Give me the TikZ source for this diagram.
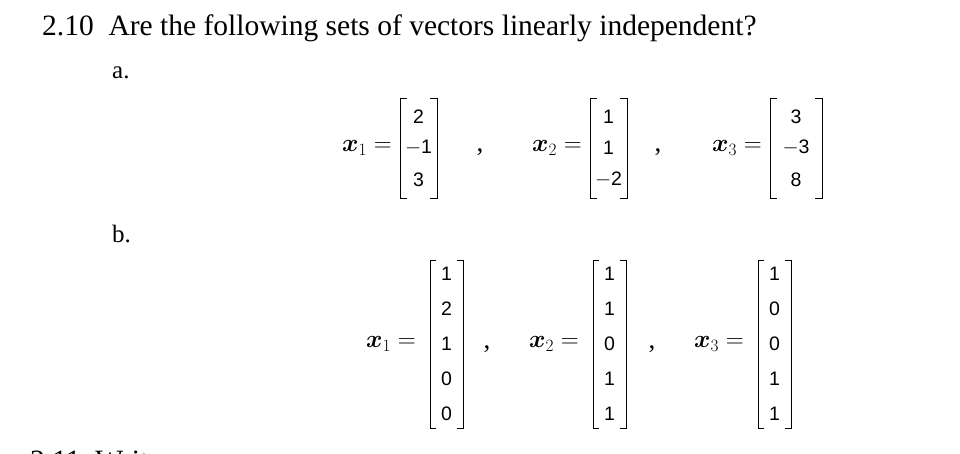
\documentclass[tikz,border=0pt]{standalone}
\usepackage{amsmath}
\usepackage{fontspec}
\setmainfont{Liberation Serif}
\newfontfamily\numf{Liberation Sans}
\begin{document}
\begin{tikzpicture}[x=1pt,y=-1pt,
  txt/.style={anchor=base west,inner sep=0pt,font=\fontsize{29.5}{32}\selectfont},
  lab/.style={anchor=base west,inner sep=0pt,font=\fontsize{25}{28}\selectfont},
  ent/.style={inner sep=0pt,font=\numf\fontsize{19.5}{22}\selectfont},
  mth/.style={inner sep=0pt,anchor=east,font=\fontsize{27}{30}\selectfont},
  commamark/.style={inner sep=0pt,font=\fontsize{27}{30}\selectfont},
  br/.style={line width=1pt}]
\useasboundingbox (0,0) rectangle (960,453);
\begin{scope}
\clip (0,0) rectangle (960,453);
\node[txt] (t) at (42,35) {2.10\ \ Are the following sets of vectors linearly independent?};
\node[lab] (a) at (112,78) {a.};
\node[lab] (b) at (112,242) {b.};
\node[txt] (next) at (30,470) {2.11\ \ Write};
% row a
\foreach \nm/\bl/\br in {1/400/437, 2/590/627, 3/770/822}{
  \node[mth] (ax\nm) at (\bl-8,148) {$\boldsymbol{x}_{\nm}=$};
  \draw[br] (\bl+7,98) -- (\bl,98) -- (\bl,198) -- (\bl+7,198);
  \draw[br] (\br-7,98) -- (\br,98) -- (\br,198) -- (\br-7,198);
}
\foreach \nm/\bl/\br/\e/\f/\g in {1/400/437/2/$-$1/3, 2/590/627/1/1/$-$2, 3/770/822/3/$-$3/8}{
  \node[ent] (ae\nm a) at ({(\bl+\br)/2},117) {\e};
  \node[ent] (ae\nm b) at ({(\bl+\br)/2},148) {\f};
  \node[ent] (ae\nm c) at ({(\bl+\br)/2},180) {\g};
}
\node[commamark] (ac1) at (480,152) {,};
\node[commamark] (ac2) at (658,152) {,};
% row b
\foreach \nm/\bl/\br/\va/\vb/\vc/\vd/\ve in {1/430/463/1/2/1/0/0, 2/593/626/1/1/0/1/1, 3/758/791/1/0/0/1/1}{
  \node[mth] (bx\nm) at (\bl-14,344) {$\boldsymbol{x}_{\nm}=$};
  \draw[br] (\bl+6,260) -- (\bl,260) -- (\bl,428) -- (\bl+6,428);
  \draw[br] (\br-6,260) -- (\br,260) -- (\br,428) -- (\br-6,428);
  \node[ent] (be\nm a) at ({(\bl+\br)/2},274) {\va};
  \node[ent] (be\nm b) at ({(\bl+\br)/2},309) {\vb};
  \node[ent] (be\nm c) at ({(\bl+\br)/2},344) {\vc};
  \node[ent] (be\nm d) at ({(\bl+\br)/2},379) {\vd};
  \node[ent] (be\nm e) at ({(\bl+\br)/2},414) {\ve};
}
\node[commamark] (bc1) at (487,349) {,};
\node[commamark] (bc2) at (652,349) {,};
\end{scope}
\end{tikzpicture}
\end{document}
